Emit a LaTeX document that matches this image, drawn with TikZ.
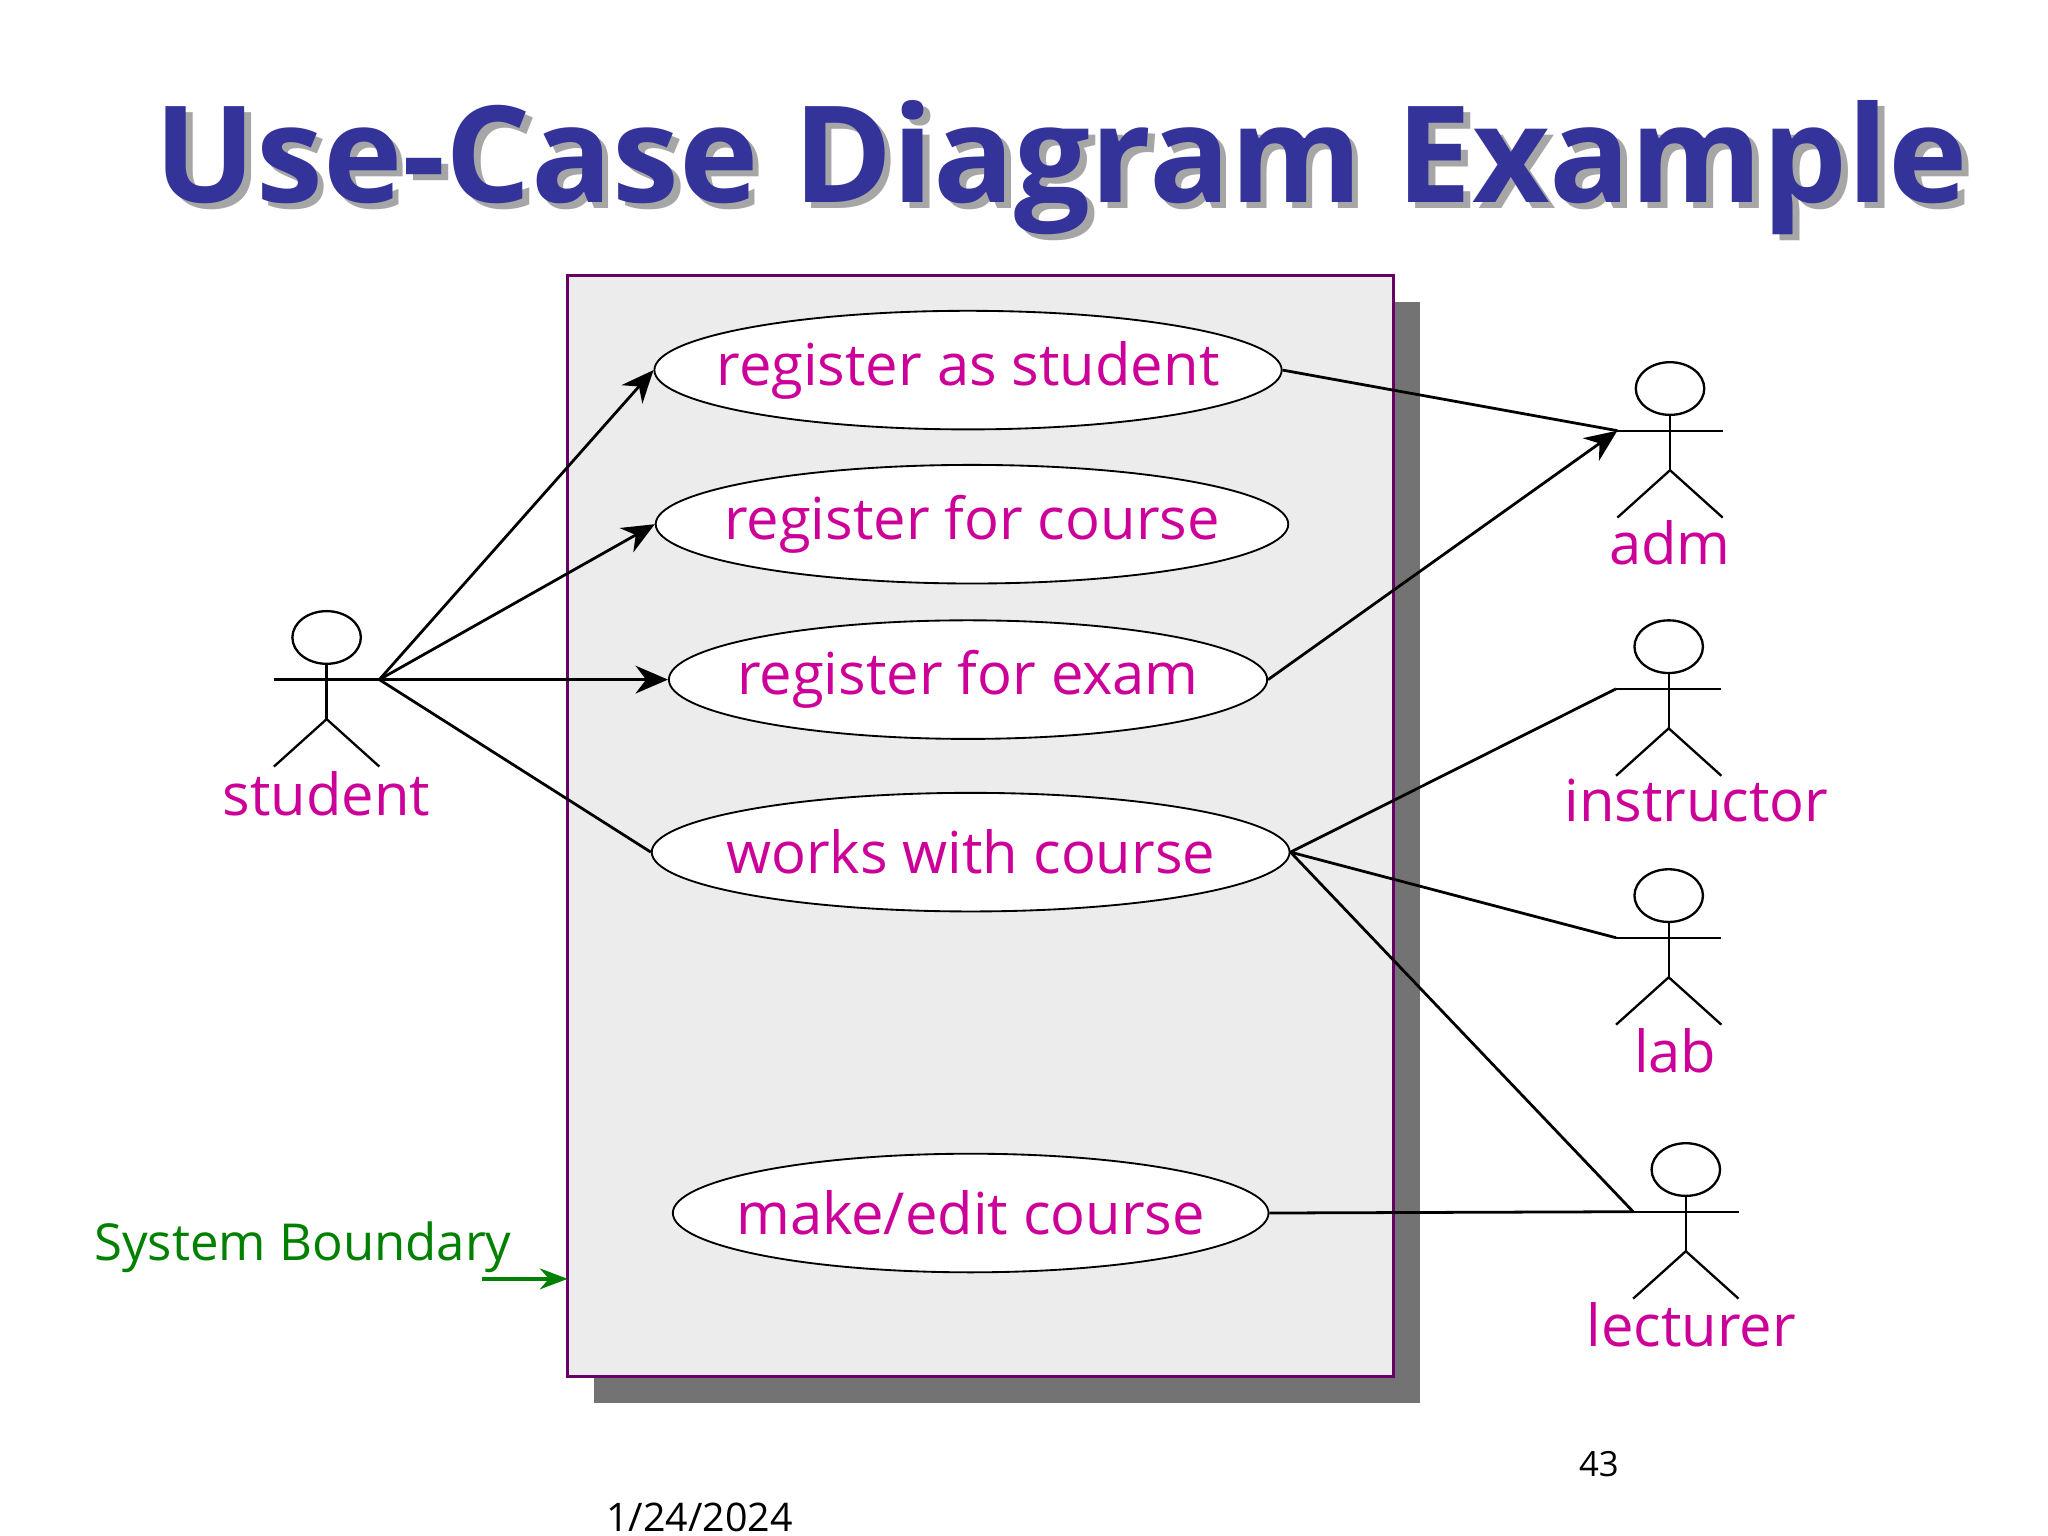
\documentclass[tikz,border=0pt]{standalone}
\usepackage{fontspec}
\setmainfont{Open Sans}
\usetikzlibrary{shapes.geometric,arrows.meta}
\definecolor{mag}{RGB}{204,0,153}
\definecolor{ttl}{RGB}{51,51,153}
\definecolor{grn}{RGB}{0,128,0}
\tikzset{
 uc/.style={draw,ellipse,fill=white,inner xsep=-60pt,inner ysep=-20pt,text=mag,font=\fontsize{12.5}{12.5}\selectfont},
 lbl/.style={text=mag,font=\fontsize{12.5}{12.5}\selectfont},
 ln/.style={draw=black,line width=0.6pt},
 arr/.style={ln,-{Stealth[length=7pt,width=6pt]}},
}
\newcommand{\actor}[3]{% name, x, y(head center)
 \draw[line width=0.5pt] (#2,#3) ellipse (26 and 20);
 \draw[line width=0.5pt] (#2,#3+20) -- (#2,#3+62) coordinate (#1hip);
 \draw[line width=0.5pt] (#2-40,#3+32) coordinate (#1L) -- (#2+40,#3+32) coordinate (#1R);
 \draw[line width=0.5pt] (#2-40,#3+98) -- (#1hip) -- (#2+40,#3+98);
}
\begin{document}
\begin{tikzpicture}[x=0.01cm,y=-0.01cm]
\useasboundingbox (0,0) rectangle (1555,1166);
\node[font=\bfseries\fontsize{29}{29}\selectfont,text=gray!70] at (811,132) {Use-Case Diagram Example};
\node[font=\bfseries\fontsize{29}{29}\selectfont,text=ttl] (title) at (806,127) {Use-Case Diagram Example};
\fill[gray!90!black] (451,229) rectangle (1078,1065);
\draw[fill=gray!15,draw=violet!80!black,line width=0.6pt] (431,209) rectangle (1058,1045);
\coordinate (boundary) at (431,971);
\node[uc,minimum width=4.76cm,minimum height=0.9cm] (u1) at (735,281) {register as student};
\node[uc,minimum width=4.80cm,minimum height=0.9cm] (u2) at (738,398) {register for course};
\node[uc,minimum width=4.54cm,minimum height=0.9cm] (u3) at (735,516) {register for exam};
\node[uc,minimum width=4.84cm,minimum height=0.9cm] (u4) at (737,647) {works with course};
\node[uc,minimum width=4.52cm,minimum height=0.9cm] (u5) at (737,921) {make/edit course};
\actor{st}{248}{484}
\actor{ad}{1268}{295}
\actor{in}{1267}{491}
\actor{la}{1267}{680}
\actor{le}{1280}{888}
\node[lbl] (stl) at (248,603) {student};
\node[lbl] (adl) at (1268,412) {adm};
\node[lbl] (inl) at (1288,608) {instructor};
\node[lbl] (lal) at (1272,798) {lab};
\node[lbl] (lel) at (1284,1006) {lecturer};
\draw[arr] (stR) -- (u1.west);
\draw[arr] (stR) -- (u2.west);
\draw[arr] (stR) -- (u3.west);
\draw[ln] (stR) -- (u4.west);
\draw[ln] (u1.east) -- (adL);
\draw[arr] (u3.east) -- (adL);
\draw[ln] (u4.east) -- (inL);
\draw[ln] (u4.east) -- (laL);
\draw[ln] (u4.east) -- (leL);
\draw[ln] (u5.east) -- (leL);
\node[text=grn,font=\fontsize{11}{11}\selectfont] (sb) at (230,947) {System Boundary};
\coordinate (sbs) at (366,971);
\draw[grn,line width=0.8pt,-{Stealth[length=6pt]}] (sbs) -- (boundary);
\node[font=\fontsize{7.5}{7.5}\selectfont] (pg) at (1214,1112) {43};
\node[font=\fontsize{8.5}{8.5}\selectfont] (dt) at (531,1152) {1/24/2024};
\end{tikzpicture}
\end{document}
